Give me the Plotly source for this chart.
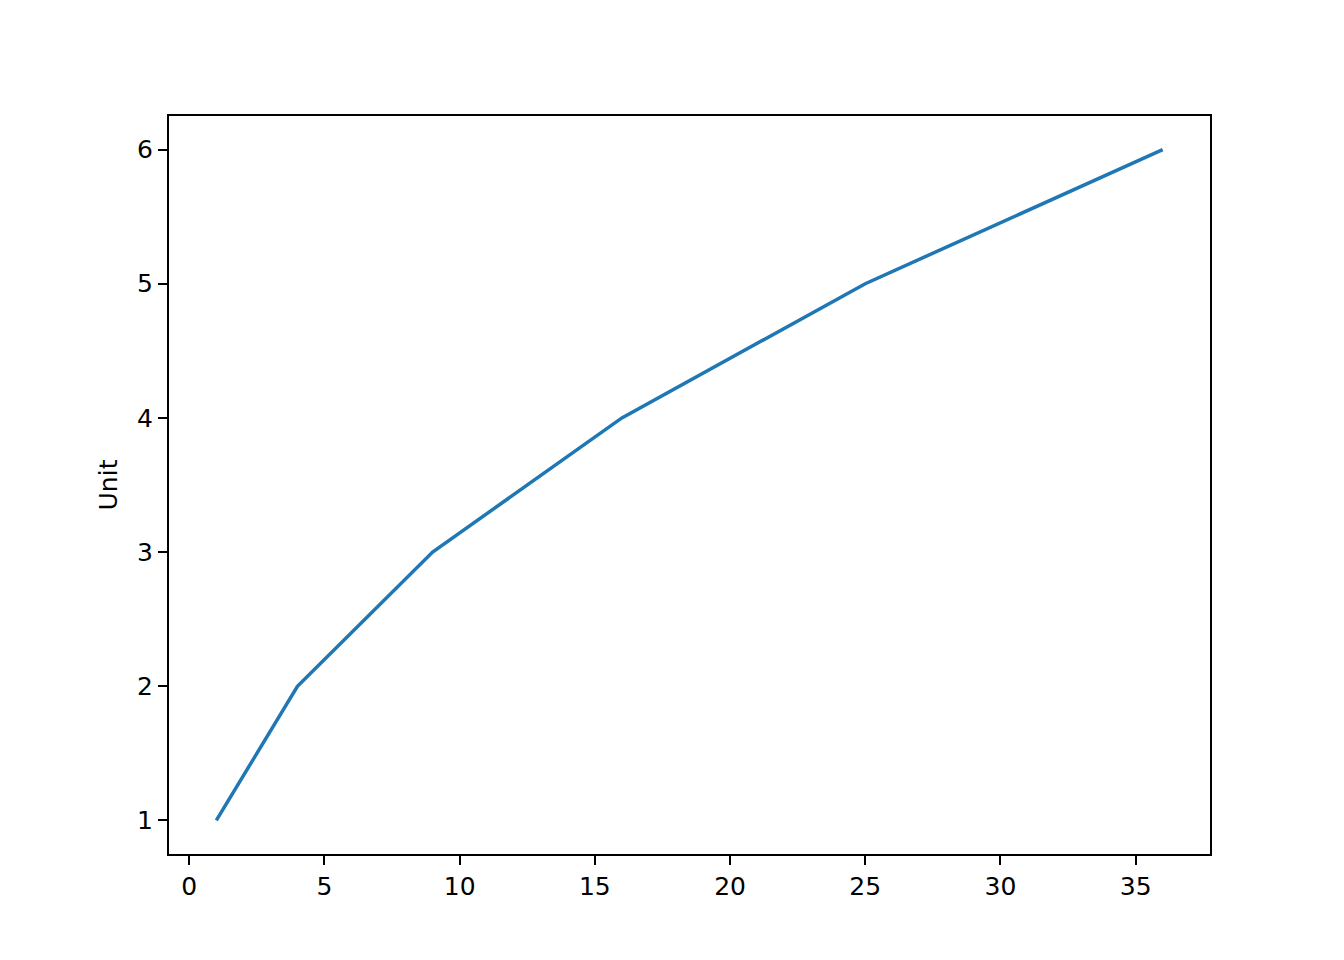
import plotly.graph_objects as go

x_values = [1, 4, 9, 16, 25, 36]
y_values = [1, 2, 3, 4, 5, 6]
y_label = "Unit"

fig = go.Figure()
fig.add_trace(go.Scatter(x=x_values, y=y_values, mode="lines",
                         line=dict(color="#1f77b4", width=3.5), showlegend=False))

font = dict(family="DejaVu Sans", size=25, color="black")
axis_common = dict(showgrid=False, zeroline=False, showline=True, linecolor="black",
                   linewidth=2, mirror=True, ticks="outside", ticklen=9, tickwidth=2,
                   tickcolor="black", tickfont=font)

fig.update_xaxes(range=[-0.75, 37.75], tickvals=[0, 5, 10, 15, 20, 25, 30, 35], **axis_common)
fig.update_yaxes(range=[0.75, 6.25], tickvals=[1, 2, 3, 4, 5, 6],
                 title=dict(text=y_label, font=font, standoff=12),
                 **axis_common)

fig.update_layout(width=1344, height=960, plot_bgcolor="white", paper_bgcolor="white",
                  margin=dict(l=161, r=142, t=108, b=114))

fig.write_html("out.html")
